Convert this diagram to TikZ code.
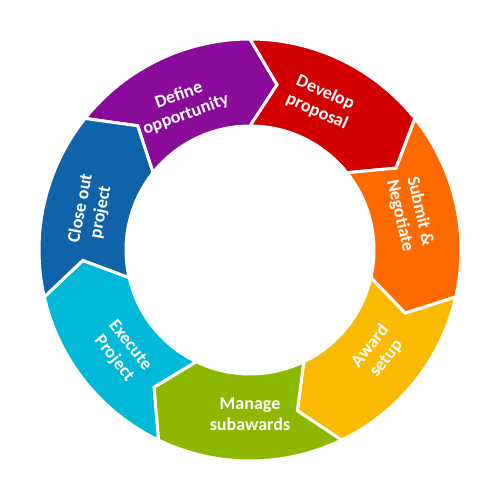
\documentclass[tikz,border=0pt]{standalone}
\usepackage{fontspec}
\setmainfont{Carlito}
\definecolor{cPurple}{HTML}{8A0A9A}
\definecolor{cRed}{HTML}{D20000}
\definecolor{cOrange}{HTML}{FF6A00}
\definecolor{cYellow}{HTML}{FABA00}
\definecolor{cGreen}{HTML}{8DB800}
\definecolor{cCyan}{HTML}{00B8D8}
\definecolor{cBlue}{HTML}{1063A8}
\def\Ro{211}
\def\Ri{124}
\def\Rm{167.5}
\def\Rl{164}
\def\tipang{9.3}
\newcommand\segshape[3]{%
  \filldraw[seg,fill=#3] (#1:\Ro) arc[start angle=#1,end angle=#2,radius=\Ro]
    -- ({#2-\tipang}:\Rm) -- (#2:\Ri)
    arc[start angle=#2,end angle=#1,radius=\Ri]
    -- ({#1-\tipang}:\Rm) -- cycle;}
\begin{document}
\begin{tikzpicture}[x=1pt,y=1pt,
  seg/.style={draw=white,line width=3pt,line join=miter},
  lbl/.style={text=white,font=\bfseries\fontsize{18}{20.5}\selectfont,align=center,inner sep=0pt}]
\useasboundingbox (-250,-250) rectangle (250,250);
\segshape{141.43}{90}{cPurple}
\segshape{90}{38.57}{cRed}
\segshape{38.57}{-12.86}{cOrange}
\segshape{-12.86}{-64.29}{cYellow}
\segshape{-64.29}{-115.71}{cGreen}
\segshape{-115.71}{-167.14}{cCyan}
\segshape{-167.14}{-218.57}{cBlue}
\node[lbl,rotate=20] (l1) at (115:160) {Define\\opportunity};
\node[lbl,rotate=-24] (l2) at (64.29:\Rl) {Develop\\proposal};
\node[lbl,rotate=-77.14] (l3) at (12.86:\Rl) {Submit \&\\Negotiate};
\node[lbl,rotate=51.43] (l4) at (-38.57:\Rl) {Award\\setup};
\node[lbl,rotate=0] (l5) at (-90:\Rl) {Manage\\subawards};
\node[lbl,rotate=-51.43] (l6) at (-141.43:\Rl) {Execute\\Project};
\node[lbl,rotate=79] (l7) at (166:\Rl) {Close out\\project};
\end{tikzpicture}
\end{document}
